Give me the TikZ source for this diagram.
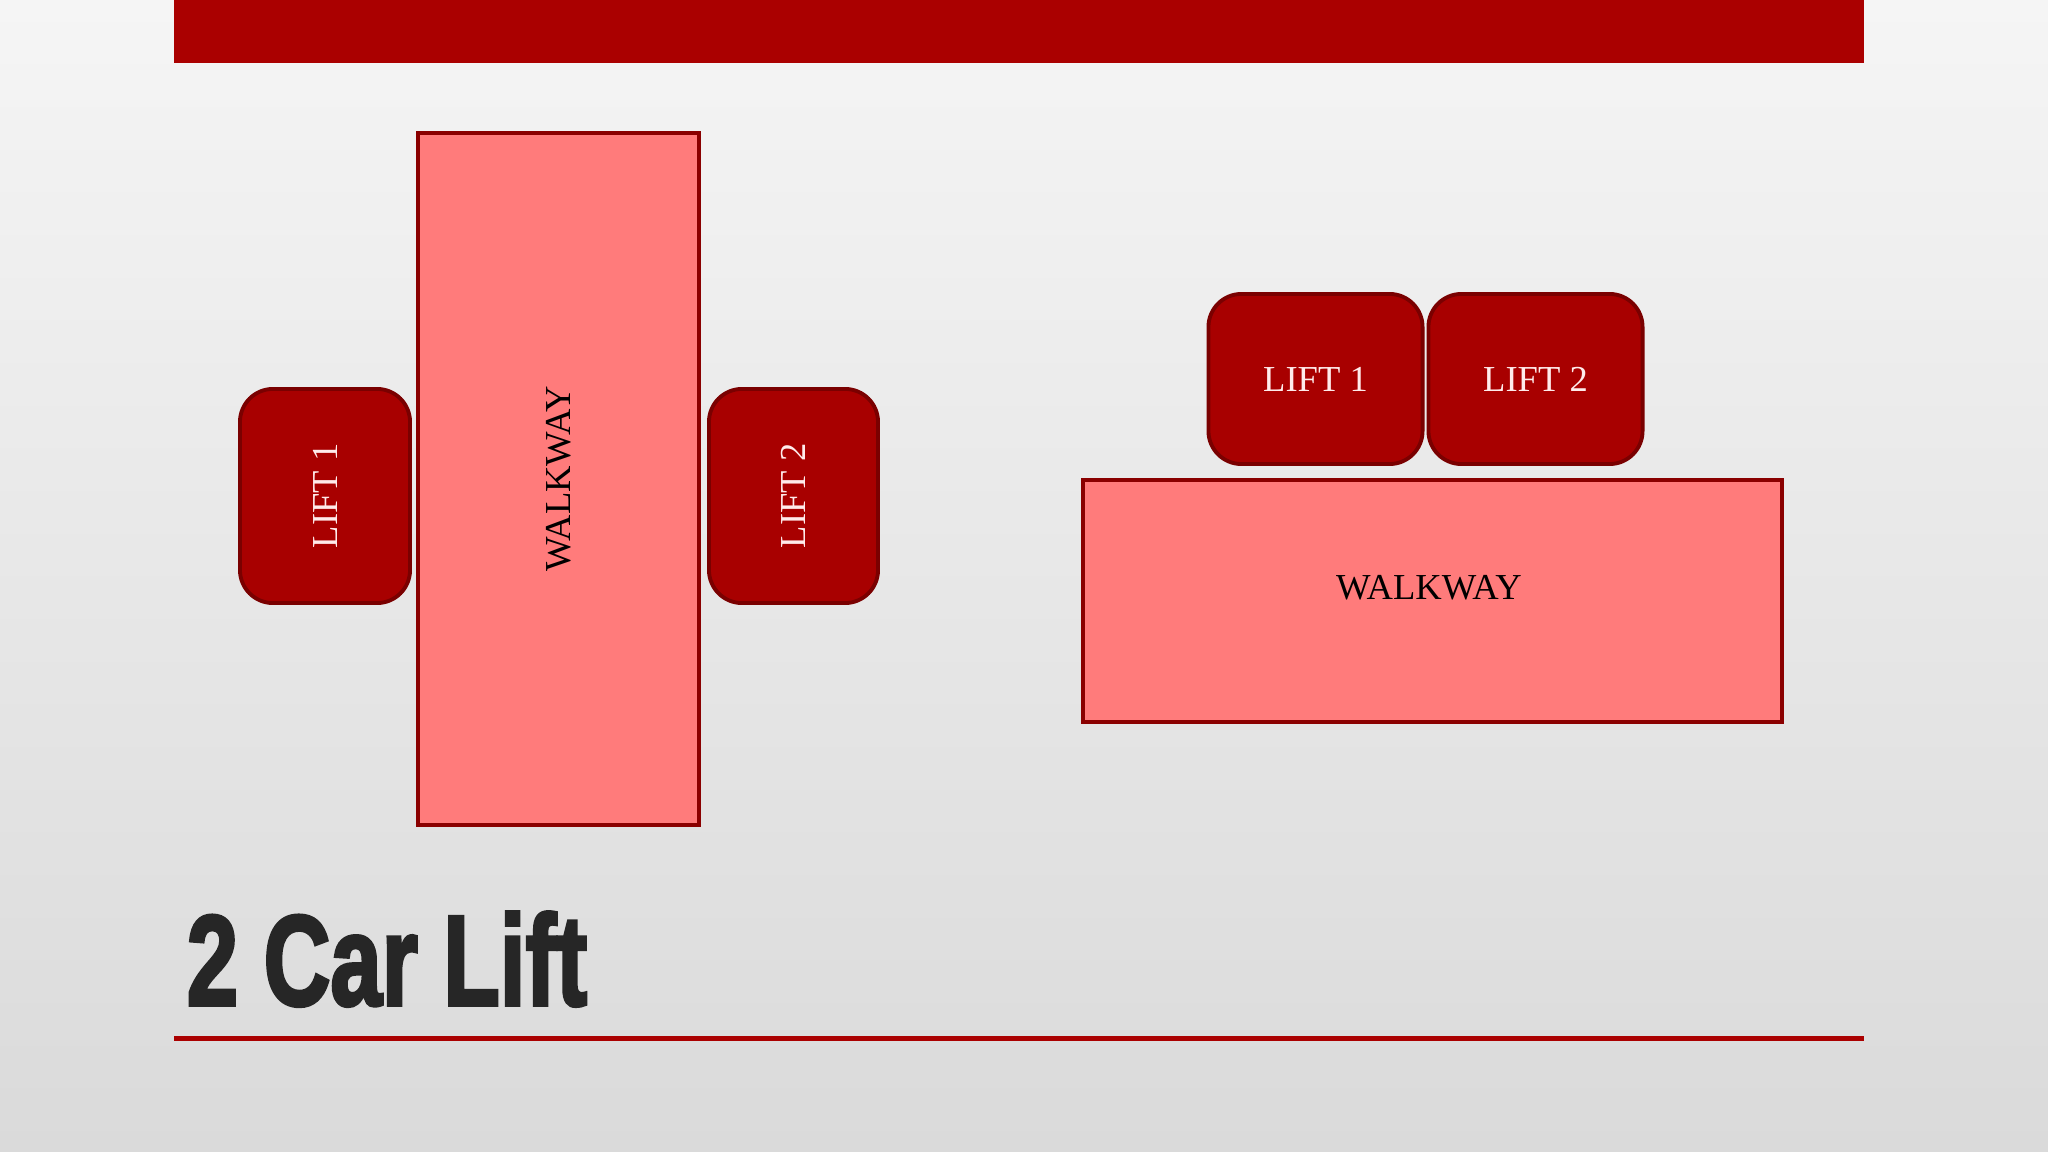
\documentclass[tikz,border=0pt]{standalone}
\usepackage{fontspec}
\setmainfont{Liberation Serif}
\newfontfamily\titlefont[FakeBold=3]{Liberation Sans}
\usepackage{graphicx}
\definecolor{barred}{HTML}{AA0000}
\definecolor{liftfill}{HTML}{A80000}
\definecolor{liftedge}{HTML}{7A0000}
\definecolor{walkfill}{HTML}{FF7B7B}
\definecolor{walkedge}{HTML}{8A0000}
\definecolor{bgtop}{HTML}{F5F5F5}
\definecolor{bgbot}{HTML}{DADADA}
\definecolor{titlecol}{HTML}{262626}
\tikzset{
  liftbox/.style={rectangle, rounded corners=0.33cm, fill=liftfill, draw=liftedge, line width=1.1pt, inner sep=0pt, text=white!92!red, font=\fontsize{10.4}{12}\selectfont},
  walkbox/.style={rectangle, fill=walkfill, draw=walkedge, line width=1.2pt, inner sep=0pt, text=black, font=\fontsize{10.4}{12}\selectfont},
}
\begin{document}
\begin{tikzpicture}[x=0.01cm,y=-0.01cm]
\useasboundingbox (0,0) rectangle (2048,1152);
\shade[top color=bgtop, bottom color=bgbot] (0,0) rectangle (2048,1152);
% top bar
\fill[barred] (174,0) rectangle (1864,63);
% left layout
\node[walkbox, minimum width=2.81cm, minimum height=6.92cm] (wl) at (558.5,479) {};
\node[rotate=90, font=\fontsize{10.4}{12}\selectfont] (wlt) at (wl.center) {WALKWAY};
\node[liftbox, minimum width=1.70cm, minimum height=2.14cm] (l1) at (325,496) {};
\node[rotate=90, text=white!92!red, font=\fontsize{10.4}{12}\selectfont] (l1t) at (l1.center) {LIFT 1};
\node[liftbox, minimum width=1.69cm, minimum height=2.14cm] (l2) at (793.5,496) {};
\node[rotate=90, text=white!92!red, font=\fontsize{10.4}{12}\selectfont] (l2t) at (l2.center) {LIFT 2};
% right layout
\node[liftbox, minimum width=2.14cm, minimum height=1.70cm] (r1) at (1315.5,379) {LIFT 1};
\node[liftbox, minimum width=2.14cm, minimum height=1.70cm] (r2) at (1535.5,379) {LIFT 2};
\node[walkbox, minimum width=6.99cm, minimum height=2.42cm] (wr) at (1432.5,601) {};
\node[font=\fontsize{10.4}{12}\selectfont] (wrt) at (1429,588) {WALKWAY};
% title
\node[anchor=base west, inner sep=0pt, text=titlecol] (title) at (186,1005) {\scalebox{0.72}[1]{\titlefont\bfseries\fontsize{36.5}{40}\selectfont 2 Car Lift}};
% bottom rule
\fill[barred] (174,1036) rectangle (1864,1041);
\end{tikzpicture}
\end{document}
